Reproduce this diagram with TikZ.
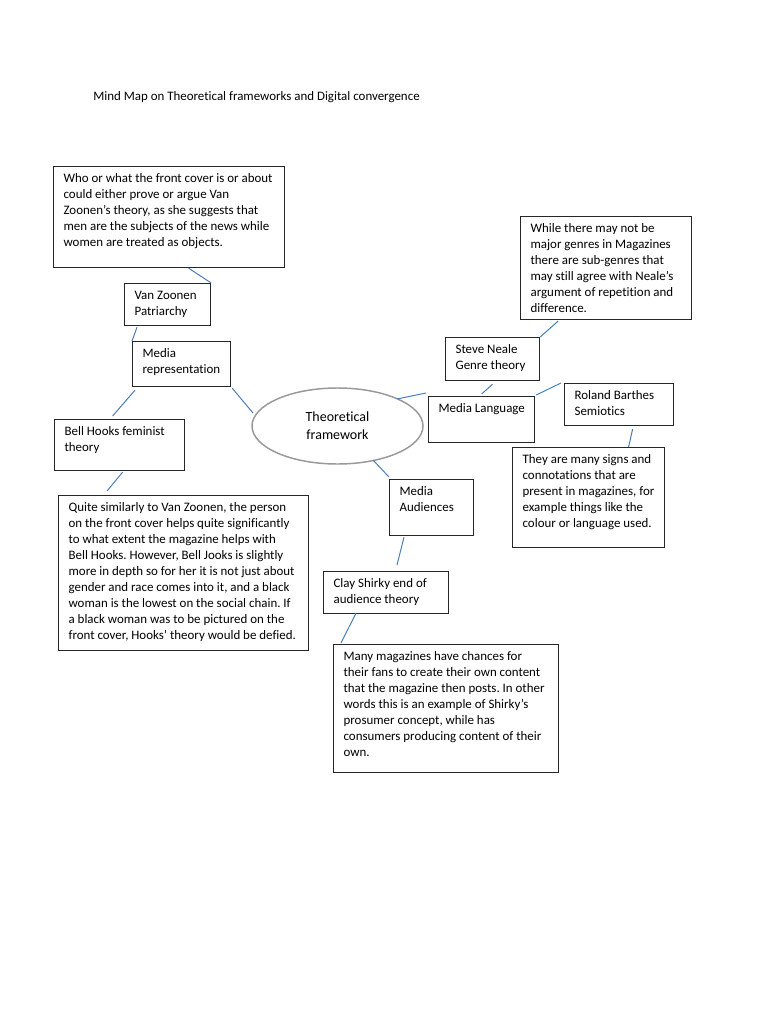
\documentclass[tikz,border=0pt]{standalone}
\usepackage{fontspec}
\setmainfont{Carlito}[Ligatures={NoCommon}]
\usetikzlibrary{shapes.geometric,calc}
\newdimen\pxu \pxu=0.75pt
\definecolor{connblue}{HTML}{4A7EBB}
\definecolor{boxline}{HTML}{262626}
\frenchspacing
\newcommand\bodyfont{\fontsize{9.7}{12}\selectfont}
\newcommand\tbx[6]{\node[boxst] (#1) at (#2,#3) {\parbox[t][#5\pxu][t]{#4\pxu}{\leftskip=10\pxu\rightskip=0pt plus 1fil\parfillskip=0pt plus 1fil\vspace*{5\pxu}\strut #6}};}
\tikzset{
  boxst/.style={draw=boxline, line width=0.9pt, anchor=north west, inner sep=0pt, font=\bodyfont},
  conn/.style={draw=connblue, line width=0.75pt},
}
\begin{document}
\begin{tikzpicture}[x=0.75pt,y=-0.75pt]
\useasboundingbox[fill=white] (0,0) rectangle (768,1024);

\node[anchor=base west, inner sep=0pt, font=\bodyfont] (title) at (93,100) {Mind Map on Theoretical frameworks and Digital convergence};

\node[ellipse, draw=black!40, line width=1.1pt, minimum width=171\pxu, minimum height=76\pxu, inner sep=0pt, fill=white] (tf) at (337.5,426)
  {\raisebox{7\pxu}{\parbox{110\pxu}{\centering\fontsize{10.5}{13.5}\selectfont Theoretical\\framework}}};

\tbx{top}{53}{166}{231}{101}{Who or what the front cover is or about\\could either prove or argue Van\\Zoonen’s theory, as she suggests that\\men are the subjects of the news while\\women are treated as objects.}
\tbx{vz}{124}{283}{86}{42}{Van Zoonen\\Patriarchy}
\tbx{mrep}{132}{341}{98}{45}{Media\\representation}
\tbx{bell}{54}{419}{130}{51}{Bell Hooks feminist\\theory}
\tbx{quite}{58}{495}{250}{155}{Quite similarly to Van Zoonen, the person\\on the front cover helps quite significantly\\to what extent the magazine helps with\\Bell Hooks. However, Bell Jooks is slightly\\more in depth so for her it is not just about\\gender and race comes into it, and a black\\woman is the lowest on the social chain. If\\a black woman was to be pictured on the\\front cover, Hooks’ theory would be defied.}
\tbx{ml}{428}{396}{106}{46}{Media Language}
\tbx{sn}{445}{337}{94}{43}{Steve Neale\\Genre theory}
\tbx{while}{520}{216}{171}{103}{While there may not be\\major genres in Magazines\\there are sub-genres that\\may still agree with Neale’s\\argument of repetition and\\difference.}
\tbx{rb}{564}{383}{109}{42}{Roland Barthes\\Semiotics}
\tbx{they}{512}{447}{152}{100}{They are many signs and\\connotations that are\\present in magazines, for\\example things like the\\colour or language used.}
\tbx{ma}{389}{479}{84}{56}{Media\\Audiences}
\tbx{clay}{323}{571}{125}{42}{Clay Shirky end of\\audience theory}
\tbx{many}{333}{644}{225}{128}{Many magazines have chances for\\their fans to create their own content\\that the magazine then posts. In other\\words this is an example of Shirky’s\\prosumer concept, while has\\consumers producing content of their\\own.}

\draw[conn] ($(top.south west)!0.584!(top.south east)$) -- (vz.north east);
\draw[conn] ($(vz.south west)+(13,1)$) -- (mrep.north west);
\draw[conn] ($(mrep.south west)+(3,3)$) -- ($(bell.north)+(-7,-3)$);
\draw[conn] ($(mrep.south east)+(1,1)$) -- ($(tf.center)+(-84.5,-13)$);
\draw[conn] ($(bell.south)+(3,1)$) -- ($(quite.north west)+(49,-4)$);
\draw[conn] ($(tf.center)+(59.5,-27)$) -- ($(ml.north west)+(-2,-3)$);
\draw[conn] ($(sn.south)+(0,3)$) -- ($(ml.north)+(0,-2)$);
\draw[conn] ($(while.south west)+(38,1)$) -- (sn.north east);
\draw[conn] ($(ml.north east)+(1,-1)$) -- ($(rb.north west)+(-3,0)$);
\draw[conn] ($(rb.south)+(13.5,3)$) -- ($(they.north)+(40,0)$);
\draw[conn] ($(tf.center)+(35.5,34)$) -- ($(ma.north west)+(0,-2)$);
\draw[conn] ($(ma.south west)+(15,1)$) -- ($(clay.north west)+(74,-6)$);
\draw[conn] ($(clay.south west)+(33,-1)$) -- ($(many.north west)+(8,-1)$);
\end{tikzpicture}
\end{document}
